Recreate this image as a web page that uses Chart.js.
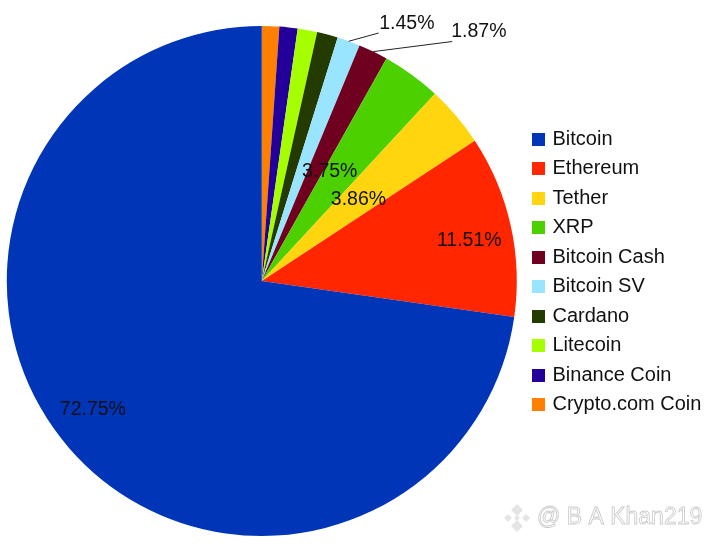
<!DOCTYPE html>
<html>
<head>
<meta charset="utf-8">
<style>
html,body{margin:0;padding:0;background:#fff;}
#wrap{position:relative;width:711px;height:544px;}
canvas{filter:blur(0.4px);}
</style>
<script src="https://cdn.jsdelivr.net/npm/chart.js@4"></script>
</head>
<body>
<div id="wrap"><canvas id="c" width="711" height="544"></canvas></div>
<script>
const categories = ['Bitcoin','Ethereum','Tether','XRP','Bitcoin Cash','Bitcoin SV','Cardano','Litecoin','Binance Coin','Crypto.com Coin'];
const shares = [72.75,11.51,3.86,3.75,1.87,1.45,1.32,1.24,1.15,1.10];
const colors = ['#0035B8','#FF2600','#FFD50F','#4DD000','#6F001F','#99E4FF','#233A00','#A6FF00','#230099','#FF8000'];
const shownLabels = ['72.75%','11.51%','3.86%','3.75%','1.87%','1.45%',null,null,null,null];

// Label placement: fraction of the pie radius, and turn in degrees from the slice's middle
const labelRadius = [0.83,0.83,0.50,0.51,1.30,1.165,0,0,0,0];
const labelTurn = [3.9,1.2,-0.4,-4.5,15,9.3,0,0,0,0];
const leaderRadius = [0,0,0,0,1.20,1.075,0,0,0,0];
const leaderTurn = [0,0,0,0,12.6,5.3,0,0,0,0];

const FONT = '"Liberation Sans", Arial, sans-serif';

function swatch(color){
  const s = document.createElement('canvas');
  s.width = 13; s.height = 13;
  const g = s.getContext('2d');
  g.fillStyle = color; g.fillRect(0,0,13,13);
  return s;
}

const pieLabels = {
  id:'pieLabels',
  afterLayout(chart){
    const lg = chart.legend;
    const dy = -9, dx = 525 - lg.left;
    lg.top += dy; lg.bottom += dy; lg.left += dx; lg.right += dx;
  },
  afterDatasetsDraw(chart){
    const ctx = chart.ctx;
    const arcs = chart.getDatasetMeta(0).data;
    const n = categories.length;
    ctx.save();
    ctx.font = '19.5px '+FONT;
    ctx.textAlign='center'; ctx.textBaseline='middle';
    ctx.fillStyle='#111';
    shownLabels.forEach((txt,i)=>{
      if(!txt) return;
      const a = arcs[n-1-i];
      const mid = (a.startAngle+a.endAngle)/2;
      const R = a.outerRadius;
      const ang = mid + labelTurn[i]*Math.PI/180;
      const x = a.x + Math.cos(ang)*R*labelRadius[i];
      const y = a.y + Math.sin(ang)*R*labelRadius[i] + 1.5;
      if(leaderRadius[i]){
        const l = mid + leaderTurn[i]*Math.PI/180;
        ctx.strokeStyle='#222'; ctx.lineWidth=1;
        ctx.beginPath();
        ctx.moveTo(a.x+Math.cos(mid)*R, a.y+Math.sin(mid)*R);
        ctx.lineTo(a.x+Math.cos(l)*R*leaderRadius[i], a.y+Math.sin(l)*R*leaderRadius[i]);
        ctx.stroke();
      }
      ctx.fillText(txt,x,y);
    });
    ctx.restore();
  },
  afterDraw(chart){
    const ctx = chart.ctx;
    ctx.save();
    ctx.fillStyle='rgba(225,225,225,0.85)';
    const d=(x,y,s)=>{ctx.beginPath();ctx.moveTo(x,y-s);ctx.lineTo(x+s,y);ctx.lineTo(x,y+s);ctx.lineTo(x-s,y);ctx.closePath();ctx.fill();};
    d(517,510,6);d(517,526,6);d(508,518,4);d(526,518,4);d(517,518,3);
    ctx.font='23px '+FONT;
    ctx.textAlign='left';ctx.textBaseline='middle';
    ctx.lineWidth=0.8;
    ctx.strokeStyle='rgba(195,195,195,0.9)';
    ctx.fillStyle='rgba(255,255,255,0.95)';
    ctx.fillText('@ B A Khan219',537,518);
    ctx.strokeText('@ B A Khan219',537,518);
    ctx.restore();
  }
};

new Chart(document.getElementById('c'),{
  type:'pie',
  data:{
    labels:categories.slice().reverse(),
    datasets:[{data:shares.slice().reverse(),backgroundColor:colors.slice().reverse(),borderWidth:0}]
  },
  options:{
    responsive:false,
    animation:false,
    rotation:0,
    layout:{padding:{top:26,bottom:8,left:0,right:1}},
    plugins:{
      tooltip:{enabled:false},
      legend:{
        position:'right',
        labels:{
          usePointStyle:true,pointStyleWidth:8,boxHeight:13,padding:9.5,color:'#111',
          font:{family:FONT,size:20},
          generateLabels(chart){
            return Chart.overrides.pie.plugins.legend.labels.generateLabels(chart)
              .map(it=>Object.assign(it,{pointStyle:swatch(it.fillStyle)}));
          },
          sort:(a,b)=>b.index-a.index
        }
      }
    }
  },
  plugins:[pieLabels]
});
</script>
</body>
</html>
